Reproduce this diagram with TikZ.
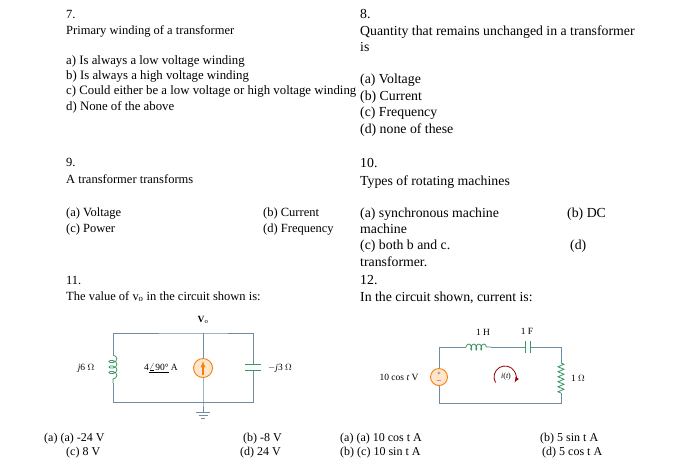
\documentclass[tikz,border=0pt]{standalone}
\usepackage{fontspec}
\setmainfont{Liberation Serif}
\usetikzlibrary{decorations.pathmorphing}
\begin{document}
\begin{tikzpicture}[x=1pt,y=-1pt,
  t/.style={anchor=base west,inner sep=0pt,font=\fontsize{12.5}{14}\selectfont},
  ts/.style={anchor=base west,inner sep=0pt,font=\fontsize{12.8}{13}\selectfont},
  tr/.style={anchor=base west,inner sep=0pt,font=\fontsize{13.8}{14}\selectfont},
  tb/.style={anchor=base west,inner sep=0pt,font=\fontsize{12}{14}\selectfont},
  cl/.style={inner sep=1pt,font=\fontsize{9.5}{10}\selectfont},
  wire/.style={draw=wirec,line width=0.8pt},
  coil/.style={draw=coilc,line width=0.8pt},
  src/.style={circle,draw=orange!80!brown,fill=orange!20,line width=0.9pt,minimum size=19pt,inner sep=0pt}]
\definecolor{wirec}{RGB}{110,140,165}
\definecolor{coilc}{RGB}{60,150,100}
\useasboundingbox (0,0) rectangle (700,464);
% Questions
\node[t] (q7) at (66,18) {7.};
\node[t] (q7a) at (66,34) {Primary winding of a transformer};
\node[ts] (o7a) at (66,64) {a) Is always a low voltage winding};
\node[ts] (o7b) at (66,79) {b) Is always a high voltage winding};
\node[ts] (o7c) at (66,94) {c) Could either be a low voltage or high voltage winding};
\node[ts] (o7d) at (66,110) {d) None of the above};
\node[tr] (q8) at (360,18) {8.};
\node[tr] (q8a) at (360,35) {Quantity that remains unchanged in a transformer};
\node[tr] (q8b) at (360,51) {is};
\node[tr] (o8a) at (360,83) {(a) Voltage};
\node[tr] (o8b) at (360,100) {(b) Current};
\node[tr] (o8c) at (360,116) {(c) Frequency};
\node[tr] (o8d) at (360,133) {(d) none of these};
\node[t] (q9) at (66,166) {9.};
\node[t] (q9a) at (66,183) {A transformer transforms};
\node[t] (o9a) at (66,216) {(a) Voltage};
\node[t] (o9b) at (263,216) {(b) Current};
\node[t] (o9c) at (66,232) {(c) Power};
\node[t] (o9d) at (263,232) {(d) Frequency};
\node[tr] (q10) at (360,167) {10.};
\node[tr] (q10a) at (360,185) {Types of rotating machines};
\node[tr] (o10a) at (360,217) {(a) synchronous machine};
\node[tr] (o10b) at (567,217) {(b) DC};
\node[tr] (o10m) at (360,233) {machine};
\node[tr] (o10c) at (360,249) {(c) both b and c.};
\node[tr] (o10d) at (570,249) {(d)};
\node[tr] (o10t) at (360,266) {transformer.};
\node[t] (q11) at (66,284) {11.};
\node[t] (q11a) at (66,300) {The value of v$_{\mathrm o}$ in the circuit shown is:};
\node[tr] (q12) at (360,284) {12.};
\node[tr] (q12a) at (360,301) {In the circuit shown, current is:};
\node[tb] (a11a) at (44,441) {(a) (a) -24 V};
\node[tb] (a11c) at (66,455) {(c) 8 V};
\node[tb] (a11b) at (243,441) {(b) -8 V};
\node[tb] (a11d) at (240,455) {(d) 24 V};
\node[tb] (a12a) at (340,441) {(a) (a) 10 cos t A};
\node[tb] (a12c) at (340,455) {(b) (c) 10 sin t A};
\node[tb] (a12b) at (540,441) {(b) 5 sin t A};
\node[tb] (a12d) at (542,455) {(d) 5 cos t A};
% Circuit 1
\coordinate (tl) at (113,333); \coordinate (tm) at (203,333); \coordinate (tr) at (253,333);
\coordinate (bl) at (113,402); \coordinate (bm) at (203,402); \coordinate (br) at (253,402);
\coordinate (l1) at (113,355); \coordinate (l2) at (113,383);
\coordinate (c1) at (253,364); \coordinate (c2) at (253,370);
\coordinate (g) at (203,412);
\node[src] (s1) at (203,368) {};
\draw[orange!80!brown,line width=1.2pt,-latex] (203,375) -- (203,361);
\draw[wire] (l1) -- (tl) -- (tm) -- (tr) -- (c1);
\draw[wire] (l2) -- (bl) -- (bm) -- (br) -- (c2);
\draw[wire] (tm) -- (s1.north); \draw[wire] (s1.south) -- (bm) -- (g);
\draw[coil,decorate,decoration={coil,aspect=0.6,segment length=5.5pt,amplitude=4pt}] (l1) -- (l2);
\draw[coil] (245,364) -- (261,364) (245,370) -- (261,370);
\draw[wire] (196,412) -- (210,412) (198.5,415) -- (207.5,415) (201,418) -- (205,418);
\node[cl,font=\fontsize{9.5}{10}\bfseries] (vo) at (203,320) {V$_{\mathrm o}$};
\node[cl] (lj6) at (86,368) {\itshape j\upshape 6 $\Omega$};
\node[cl] (li) at (161,368) {4\underline{$\angle$90°} A};
\node[cl] (lj3) at (280,368) {$-$\itshape j\upshape 3 $\Omega$};
% Circuit 2
\coordinate (a1) at (439,347); \coordinate (a2) at (561,347);
\coordinate (a3) at (561,403); \coordinate (a4) at (439,403);
\coordinate (i1) at (466,347); \coordinate (i2) at (491,347);
\coordinate (k1) at (525,347); \coordinate (k2) at (530,347);
\coordinate (r1) at (561,363); \coordinate (r2) at (561,393);
\node[src,minimum size=17pt] (s2) at (439,377) {};
\node[cl,font=\fontsize{6}{6}\selectfont] at (439,373.5) {+};
\node[cl,font=\fontsize{6}{6}\selectfont] at (439,380.5) {$-$};
\draw[wire] (s2.north) -- (a1) -- (i1);
\draw[wire] (i2) -- (k1); \draw[wire] (k2) -- (a2) -- (r1);
\draw[wire] (r2) -- (a3) -- (a4) -- (s2.south);
\draw[coil,decorate,decoration={coil,segment length=5pt,amplitude=3pt}] (i1) -- (i2);
\draw[coil] (k1) ++(0,-6) -- ++(0,12) (k2) ++(0,-6) -- ++(0,12);
\draw[coil,decorate,decoration={zigzag,segment length=5pt,amplitude=3pt}] (r1) -- (r2);
\draw[red!60!black,line width=0.8pt,-latex] (495.5,382.5) arc (150:390:11);
\node[cl,font=\fontsize{8}{9}\selectfont] (lit) at (506,377) {\itshape i\upshape(\itshape t\upshape)};
\node[cl] (l10) at (399,377) {10 cos \itshape t\upshape\ V};
\node[cl] (l1h) at (483,332) {1 H};
\node[cl] (l1f) at (527,331) {1 F};
\node[cl] (l1o) at (578,378) {1 $\Omega$};
\end{tikzpicture}
\end{document}
